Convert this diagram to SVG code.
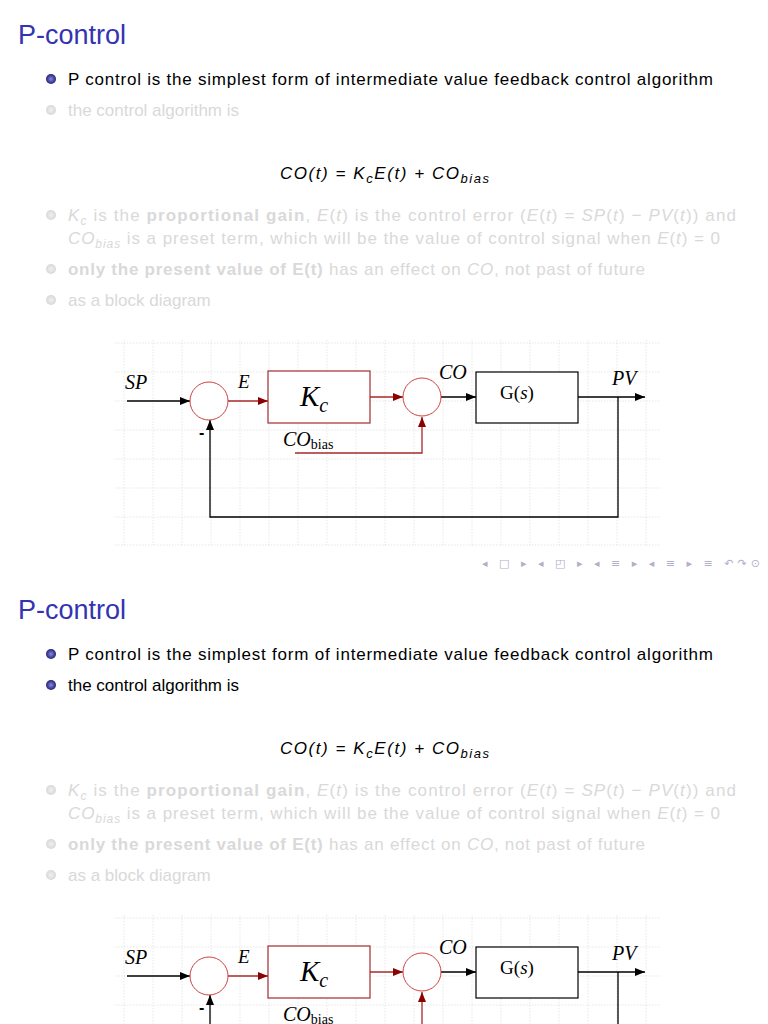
<svg xmlns="http://www.w3.org/2000/svg" width="768" height="1024" viewBox="0 0 768 1024">
<defs>
<style>
.t{font-family:"Liberation Sans",Arial,sans-serif;font-size:17px;fill:#000}
.f{fill:#d9d9d9}
.ti{font-family:"Liberation Sans",Arial,sans-serif;font-size:27px;fill:#3333b3}
.m{font-family:"Liberation Serif","Times New Roman",serif;font-style:italic;fill:#000}
.b{font-weight:bold}
.i{font-style:italic}
.blk{stroke:#000;stroke-width:1.3;fill:none}
.red{stroke:#a52a2a;stroke-width:1.3;fill:none}
.grid{stroke:#d6d6d6;stroke-width:0.6;stroke-dasharray:1.5 1.5}
</style>
<marker id="ab" markerWidth="10" markerHeight="8" refX="10" refY="4" orient="auto" markerUnits="userSpaceOnUse"><path d="M0,0 L10,4 L0,8 z" fill="#000"/></marker>
<marker id="ar" markerWidth="10" markerHeight="8" refX="10" refY="4" orient="auto" markerUnits="userSpaceOnUse"><path d="M0,0 L10,4 L0,8 z" fill="#8b0000"/></marker>
<radialGradient id="bul"><stop offset="0" stop-color="#8888dd"/><stop offset="1" stop-color="#22227a"/></radialGradient>
<radialGradient id="bulf"><stop offset="0" stop-color="#f0f0f0"/><stop offset="1" stop-color="#d8d8d8"/></radialGradient>
<g id="diagram">
<g id="grid">
<path class="grid" d="M115,343H660M115,372H660M115,401H660M115,430H660M115,459H660M115,488H660M115,517H660M115,545H660"/>
<path class="grid" d="M124,340V545M153,340V545M182,340V545M211,340V545M240,340V545M269,340V545M298,340V545M327,340V545M356,340V545M385,340V545M414,340V545M443,340V545M472,340V545M501,340V545M530,340V545M559,340V545M588,340V545M617,340V545M646,340V545"/>
</g>
<g id="connectors">
<path class="blk" d="M127,401H190" marker-end="url(#ab)"/>
<path class="red" d="M228,401H268" marker-end="url(#ar)"/>
<path class="red" d="M370,397H403" marker-end="url(#ar)"/>
<path class="blk" d="M441,397H476" marker-end="url(#ab)"/>
<path class="blk" d="M578,397H645" marker-end="url(#ab)"/>
<path class="blk" d="M618,397V517H210V420" marker-end="url(#ab)"/>
<path class="red" d="M295,453H422V417" marker-end="url(#ar)"/>
</g>
<g id="sum1"><circle cx="209" cy="401" r="19" fill="#fff" stroke="#d04040" stroke-width="1"/></g>
<g id="kc"><rect x="268" y="371" width="102" height="52" fill="#fff" stroke="#a52a2a" stroke-width="1.2"/><text class="m" x="300" y="406" font-size="29">K<tspan font-size="20" dy="6">c</tspan></text></g>
<g id="sum2"><circle cx="422" cy="397" r="19" fill="#fff" stroke="#d04040" stroke-width="1"/></g>
<g id="gs"><rect x="476" y="372" width="102" height="51" fill="#fff" stroke="#000" stroke-width="1.2"/><text x="517" y="399" font-family="Liberation Serif,serif" font-size="19" text-anchor="middle">G(<tspan font-style="italic">s</tspan>)</text></g>
<text class="m" x="125" y="389" font-size="20">SP</text>
<text class="m" x="238" y="388" font-size="19">E</text>
<text class="m" x="439" y="379" font-size="20">CO</text>
<text class="m" x="612" y="385" font-size="20">PV</text>
<text class="m" x="283" y="446" font-size="20">CO<tspan font-style="normal" font-size="14" dy="3">bias</tspan></text>
<text x="199" y="438" font-family="Liberation Sans,sans-serif" font-size="16" font-weight="bold">-</text>
</g>
</defs>

<g id="slide1">
<text class="ti" x="18" y="44">P-control</text>
<circle cx="51" cy="79" r="5" fill="url(#bul)"/>
<text class="t" x="68" y="85" textLength="645">P control is the simplest form of intermediate value feedback control algorithm</text>
<circle cx="51" cy="110" r="5" fill="url(#bulf)"/>
<text class="t f" x="68" y="116">the control algorithm is</text>
<text class="t i" x="280" y="179" font-size="18" textLength="209">CO(t) = K<tspan font-size="13" dy="4">c</tspan><tspan dy="-4">E(t) + CO</tspan><tspan font-size="13" dy="4">bias</tspan></text>
<circle cx="51" cy="215" r="5" fill="url(#bulf)"/>
<text class="t f" x="68" y="221" textLength="668"><tspan class="i">K</tspan><tspan class="i" font-size="12" dy="4">c</tspan><tspan dy="-4"> is the </tspan><tspan class="b">proportional gain</tspan>, <tspan class="i">E</tspan>(<tspan class="i">t</tspan>) is the control error (<tspan class="i">E</tspan>(<tspan class="i">t</tspan>) = <tspan class="i">SP</tspan>(<tspan class="i">t</tspan>) − <tspan class="i">PV</tspan>(<tspan class="i">t</tspan>)) and</text>
<text class="t f" x="68" y="244" textLength="652"><tspan class="i">CO</tspan><tspan class="i" font-size="12" dy="4">bias</tspan><tspan dy="-4"> is a preset term, which will be the value of control signal when </tspan><tspan class="i">E</tspan>(<tspan class="i">t</tspan>) = 0</text>
<circle cx="51" cy="269" r="5" fill="url(#bulf)"/>
<text class="t f" x="68" y="275" textLength="577"><tspan class="b">only the present value of E(t)</tspan> has an effect on <tspan class="i">CO</tspan>, not past of future</text>
<circle cx="51" cy="300" r="5" fill="url(#bulf)"/>
<text class="t f" x="68" y="306">as a block diagram</text>
<use href="#diagram"/>
<text x="482" y="567" font-family="DejaVu Sans,sans-serif" font-size="11" fill="#b0b0c8" textLength="278">◂ □ ▸ ◂ ◰ ▸ ◂ ≡ ▸ ◂ ≡ ▸ ≡ ↶↷⊙</text>
</g>

<g id="slide2" transform="translate(0,575)">
<text class="ti" x="18" y="44">P-control</text>
<circle cx="51" cy="79" r="5" fill="url(#bul)"/>
<text class="t" x="68" y="85" textLength="645">P control is the simplest form of intermediate value feedback control algorithm</text>
<circle cx="51" cy="110" r="5" fill="url(#bul)"/>
<text class="t" x="68" y="116">the control algorithm is</text>
<text class="t i" x="280" y="179" font-size="18" textLength="209">CO(t) = K<tspan font-size="13" dy="4">c</tspan><tspan dy="-4">E(t) + CO</tspan><tspan font-size="13" dy="4">bias</tspan></text>
<circle cx="51" cy="215" r="5" fill="url(#bulf)"/>
<text class="t f" x="68" y="221" textLength="668"><tspan class="i">K</tspan><tspan class="i" font-size="12" dy="4">c</tspan><tspan dy="-4"> is the </tspan><tspan class="b">proportional gain</tspan>, <tspan class="i">E</tspan>(<tspan class="i">t</tspan>) is the control error (<tspan class="i">E</tspan>(<tspan class="i">t</tspan>) = <tspan class="i">SP</tspan>(<tspan class="i">t</tspan>) − <tspan class="i">PV</tspan>(<tspan class="i">t</tspan>)) and</text>
<text class="t f" x="68" y="244" textLength="652"><tspan class="i">CO</tspan><tspan class="i" font-size="12" dy="4">bias</tspan><tspan dy="-4"> is a preset term, which will be the value of control signal when </tspan><tspan class="i">E</tspan>(<tspan class="i">t</tspan>) = 0</text>
<circle cx="51" cy="269" r="5" fill="url(#bulf)"/>
<text class="t f" x="68" y="275" textLength="577"><tspan class="b">only the present value of E(t)</tspan> has an effect on <tspan class="i">CO</tspan>, not past of future</text>
<circle cx="51" cy="300" r="5" fill="url(#bulf)"/>
<text class="t f" x="68" y="306">as a block diagram</text>
<use href="#diagram"/>
</g>
</svg>
